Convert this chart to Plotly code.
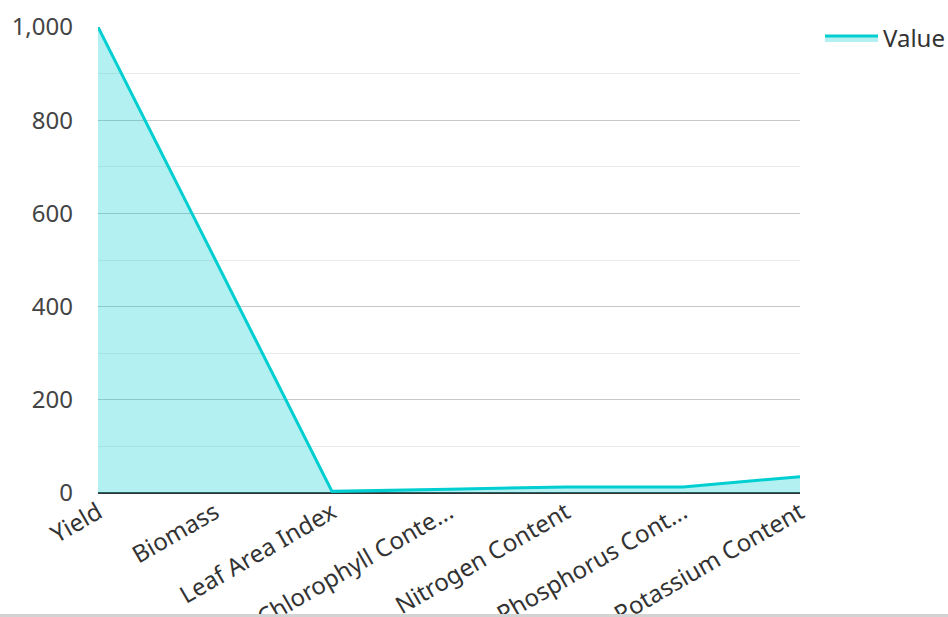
import plotly.graph_objects as go

categories = ["Yield", "Biomass", "Leaf Area Index", "Chlorophyll Conte...",
              "Nitrogen Content", "Phosphorus Cont...", "Potassium Content"]
values = [1000, 500, 3.5, 8, 13, 13, 35]
y_ticks = [0, 200, 400, 600, 800, 1000]
y_tick_labels = ["0", "200", "400", "600", "800", "1,000"]

fig = go.Figure()
fig.add_trace(go.Scatter(
    x=list(range(len(categories))), y=values, name="Value",
    mode="lines", fill="tozeroy",
    line=dict(color="#00CED1", width=3),
    fillcolor="rgba(0,206,209,0.3)",
))

fig.update_layout(
    width=948, height=617,
    margin=dict(l=98, r=148, t=27, b=124, autoexpand=False),
    paper_bgcolor="white", plot_bgcolor="white",
    font=dict(family="Noto Sans, Open Sans, sans-serif", size=24, color="#444"),
    showlegend=True,
    legend=dict(x=(820 - 98) / 702, y=1.024, xanchor="left", yanchor="top",
                itemwidth=53, font=dict(size=24, color="#333"),
                bgcolor="rgba(0,0,0,0)", borderwidth=0),
    xaxis=dict(range=[0, 6], tickmode="array", tickvals=list(range(len(categories))),
               ticktext=categories, tickangle=-30, showgrid=False, automargin=False,
               showline=False, zeroline=False, ticks="",
               tickfont=dict(size=24, color="#333")),
    yaxis=dict(range=[0, 1000], tickmode="array", tickvals=y_ticks, automargin=False,
               ticktext=y_tick_labels, showgrid=True, gridcolor="#c8c8c8",
               gridwidth=1, zeroline=True, zerolinecolor="#333", zerolinewidth=2,
               ticks="", ticklabelstandoff=24, tickfont=dict(size=24, color="#444"),
               minor=dict(dtick=100, showgrid=True, gridcolor="#ebebeb", gridwidth=1, ticks="")),
)

fig.add_shape(type="rect", xref="paper", yref="paper", x0=-0.2, x1=1.3,
              y0=(493 - 625) / 466, y1=(493 - 614) / 466,
              fillcolor="#d3d3d3", line=dict(width=0), layer="above")

fig.write_html("out.html")
